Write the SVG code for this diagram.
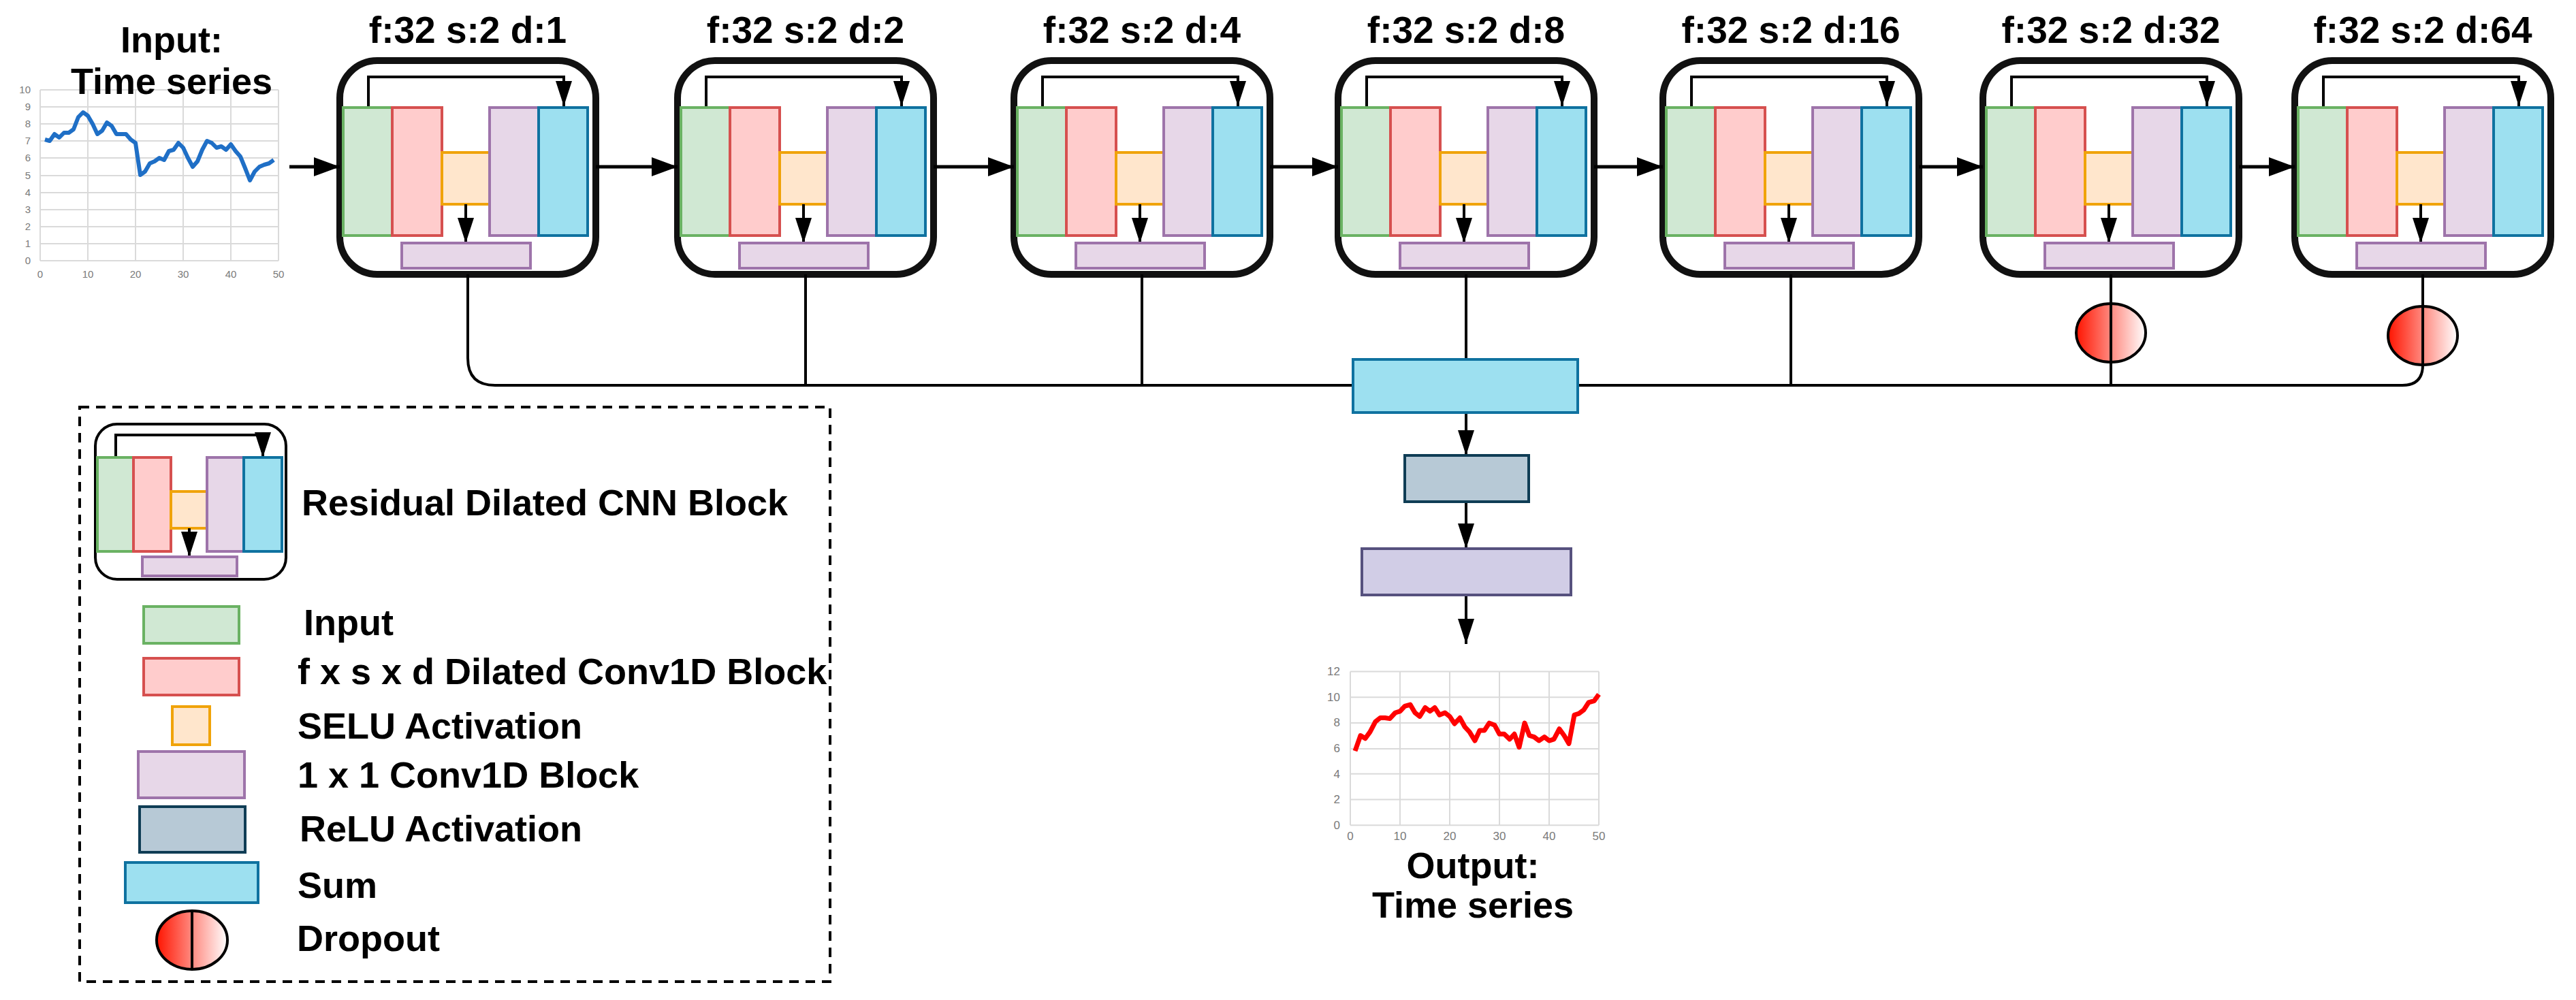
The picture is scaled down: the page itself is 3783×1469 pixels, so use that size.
<svg xmlns="http://www.w3.org/2000/svg" width="3783" height="1469" viewBox="0 0 3783 1469">
<style>
.t{font-family:"Liberation Sans",Arial,sans-serif;font-weight:bold;fill:#000}
.ax{font-family:"Liberation Sans",Arial,sans-serif;fill:#7a7a7a}
.outer{fill:#fff;stroke:#111;stroke-width:10}
.g{fill:#d0e8d3;stroke:#6ab263;stroke-width:4}
.r{fill:#ffcccc;stroke:#d6504f;stroke-width:4}
.o{fill:#ffe6cc;stroke:#f0a30a;stroke-width:4}
.p{fill:#e7d7e8;stroke:#9e74aa;stroke-width:4}
.b{fill:#9de0f0;stroke:#0f72a0;stroke-width:4}
.relu{fill:#b7c9d6;stroke:#0f3d55;stroke-width:4}
.dense{fill:#d1cde6;stroke:#56517e;stroke-width:4}
.ln{fill:none;stroke:#000;stroke-width:4}
.grid{stroke:#dadada;stroke-width:2;fill:none}
.drop{fill:url(#dg);stroke:#000;stroke-width:4}
</style>
<defs>
<marker id="ah" viewBox="0 0 38 28" refX="38" refY="14" markerWidth="38" markerHeight="28" markerUnits="userSpaceOnUse" orient="auto"><path d="M0,0L38,14L0,28z" fill="#000"/></marker>
<marker id="an" viewBox="0 0 37 24" refX="37" refY="12" markerWidth="37" markerHeight="24" markerUnits="userSpaceOnUse" orient="auto"><path d="M0,0L37,12L0,24z" fill="#000"/></marker>
<linearGradient id="dg" x1="0" y1="0" x2="1" y2="0"><stop offset="0" stop-color="#ff1400"/><stop offset="1" stop-color="#ffffff"/></linearGradient>
<g id="blk">
<rect class="outer" x="0" y="0" width="376" height="314" rx="55"/>
<path class="ln" d="M42,69V24H329V67" marker-end="url(#an)"/>
<rect class="g" x="5" y="69" width="72" height="188"/>
<rect class="r" x="77" y="69" width="73" height="188"/>
<rect class="o" x="150" y="135" width="70" height="76"/>
<rect class="p" x="220" y="69" width="72" height="188"/>
<rect class="b" x="292" y="69" width="72" height="188"/>
<path class="ln" d="M185,211V268" marker-end="url(#an)"/>
<rect class="p" x="91" y="268" width="189" height="37"/>
</g>
</defs>
<rect width="3783" height="1469" fill="#fff"/>

<g id="input-chart">
<path class="grid" d="M59,383H409M59,358H409M59,333H409M59,308H409M59,283H409M59,258H409M59,232H409M59,207H409M59,182H409M59,157H409M59,132H409M59,132V383M129,132V383M199,132V383M269,132V383M339,132V383M409,132V383"/>
<g class="ax" font-size="15" text-anchor="end">
<text x="45" y="388">0</text><text x="45" y="363">1</text><text x="45" y="338">2</text><text x="45" y="313">3</text><text x="45" y="288">4</text><text x="45" y="263">5</text><text x="45" y="237">6</text><text x="45" y="212">7</text><text x="45" y="187">8</text><text x="45" y="162">9</text><text x="45" y="137">10</text>
</g>
<g class="ax" font-size="15" text-anchor="middle">
<text x="59" y="408">0</text><text x="129" y="408">10</text><text x="199" y="408">20</text><text x="269" y="408">30</text><text x="339" y="408">40</text><text x="409" y="408">50</text>
</g>
<polyline fill="none" stroke="#1f6fc6" stroke-width="6" stroke-linejoin="round" points="66,205 73,207 80,197 87,202 94,195 101,195 108,190 115,172 122,165 129,170 136,182 143,197 150,192 157,180 164,185 171,197 178,197 185,197 192,205 199,210 206,257 213,252 220,240 227,237 234,232 241,235 248,222 255,220 262,210 269,217 276,232 283,245 290,237 297,220 304,207 311,210 318,217 325,215 332,220 339,212 346,222 353,230 360,247 367,265 374,252 381,245 388,242 395,240 402,235"/>
<text class="t" font-size="54" x="252" y="77" text-anchor="middle">Input:</text>
<text class="t" font-size="54" x="252" y="138" text-anchor="middle">Time series</text>
</g>

<g id="block1"><use href="#blk" x="499" y="89"/><text class="t" font-size="55" x="687" y="63" text-anchor="middle">f:32 s:2 d:1</text></g>
<g id="block2"><use href="#blk" x="995" y="89"/><text class="t" font-size="55" x="1183" y="63" text-anchor="middle">f:32 s:2 d:2</text></g>
<g id="block3"><use href="#blk" x="1489" y="89"/><text class="t" font-size="55" x="1677" y="63" text-anchor="middle">f:32 s:2 d:4</text></g>
<g id="block4"><use href="#blk" x="1965" y="89"/><text class="t" font-size="55" x="2153" y="63" text-anchor="middle">f:32 s:2 d:8</text></g>
<g id="block5"><use href="#blk" x="2442" y="89"/><text class="t" font-size="55" x="2630" y="63" text-anchor="middle">f:32 s:2 d:16</text></g>
<g id="block6"><use href="#blk" x="2912" y="89"/><text class="t" font-size="55" x="3100" y="63" text-anchor="middle">f:32 s:2 d:32</text></g>
<g id="block7"><use href="#blk" x="3370" y="89"/><text class="t" font-size="55" x="3558" y="63" text-anchor="middle">f:32 s:2 d:64</text></g>

<g id="connectors">
<g stroke="#000" stroke-width="5" fill="none">
<path d="M425,245H499" marker-end="url(#ah)"/>
<path d="M875,245H995" marker-end="url(#ah)"/>
<path d="M1371,245H1489" marker-end="url(#ah)"/>
<path d="M1865,245H1965" marker-end="url(#ah)"/>
<path d="M2341,245H2442" marker-end="url(#ah)"/>
<path d="M2818,245H2912" marker-end="url(#ah)"/>
<path d="M3288,245H3370" marker-end="url(#ah)"/>
</g>
<path class="ln" stroke-width="5" d="M687,403V526Q687,566 727,566H3528Q3558,566 3558,536"/>
<path class="ln" d="M1183,403V566M1677,403V566M2153,403V528M2630,403V566M3100,403V566M3558,403V536"/>
<path class="ln" d="M2153,606V669" marker-end="url(#an)"/>
<path class="ln" d="M2153,737V806" marker-end="url(#an)"/>
<path class="ln" d="M2153,874V946" marker-end="url(#an)"/>
</g>

<g id="dropout1"><ellipse class="drop" cx="3100" cy="489" rx="51" ry="43"/><line x1="3100" y1="446" x2="3100" y2="532" stroke="#000" stroke-width="4"/></g>
<g id="dropout2"><ellipse class="drop" cx="3558" cy="493" rx="51" ry="43"/><line x1="3558" y1="450" x2="3558" y2="536" stroke="#000" stroke-width="4"/></g>
<g id="sum"><rect class="b" x="1987" y="528" width="330" height="78" stroke-width="5"/></g>
<g id="relu"><rect class="relu" x="2063" y="669" width="182" height="68"/></g>
<g id="dense"><rect class="dense" x="2000" y="806" width="307" height="68"/></g>

<g id="output-chart">
<g transform="matrix(1 0 0 1.08 0 -33)">
<path class="grid" vector-effect="non-scaling-stroke" d="M1983,1153H2348M1983,1118H2348M1983,1083H2348M1983,1049H2348M1983,1014H2348M1983,979H2348M1983,944H2348M1983,944V1153M2056,944V1153M2129,944V1153M2202,944V1153M2275,944V1153M2348,944V1153"/>
<polyline fill="none" stroke="#ff0000" stroke-width="7" vector-effect="non-scaling-stroke" stroke-linejoin="round" points="1990,1052 1998,1031 2005,1035 2012,1026 2020,1012 2027,1007 2034,1007 2041,1008 2049,1000 2056,998 2063,991 2071,989 2078,1000 2085,1005 2093,993 2100,998 2107,993 2114,1003 2122,1000 2129,1005 2136,1015 2144,1007 2151,1019 2158,1026 2166,1038 2173,1024 2180,1024 2187,1014 2195,1017 2202,1029 2209,1029 2217,1036 2224,1029 2231,1047 2239,1014 2246,1031 2253,1033 2260,1038 2268,1033 2275,1038 2282,1036 2290,1022 2297,1031 2304,1042 2312,1003 2319,1001 2326,996 2333,986 2341,984 2348,975"/>
</g>
<g class="ax" font-size="17" text-anchor="end">
<text x="1968" y="1218">0</text><text x="1968" y="1180">2</text><text x="1968" y="1143">4</text><text x="1968" y="1105">6</text><text x="1968" y="1067">8</text><text x="1968" y="1030">10</text><text x="1968" y="992">12</text>
</g>
<g class="ax" font-size="17" text-anchor="middle">
<text x="1983" y="1234">0</text><text x="2056" y="1234">10</text><text x="2129" y="1234">20</text><text x="2202" y="1234">30</text><text x="2275" y="1234">40</text><text x="2348" y="1234">50</text>
</g>
<text class="t" font-size="54" x="2163" y="1290" text-anchor="middle">Output:</text>
<text class="t" font-size="54" x="2163" y="1348" text-anchor="middle">Time series</text>
</g>

<g id="legend">
<rect x="117" y="598" width="1102" height="844" fill="none" stroke="#000" stroke-width="4" stroke-dasharray="14,10"/>
<rect x="140" y="623" width="280" height="228" rx="32" fill="#fff" stroke="#000" stroke-width="4"/>
<path class="ln" d="M170,672V639H386V672" marker-end="url(#an)"/>
<rect class="g" x="143" y="672" width="53" height="138"/>
<rect class="r" x="196" y="672" width="55" height="138"/>
<rect class="o" x="251" y="722" width="53" height="54"/>
<rect class="p" x="304" y="672" width="54" height="138"/>
<rect class="b" x="358" y="672" width="56" height="138"/>
<path class="ln" d="M278,776V818" marker-end="url(#an)"/>
<rect class="p" x="209" y="818" width="139" height="28"/>
<text class="t" font-size="54" x="443" y="757">Residual Dilated CNN Block</text>
<rect class="g" x="211" y="891" width="140" height="54"/>
<text class="t" font-size="54" x="446" y="933">Input</text>
<rect class="r" x="211" y="967" width="140" height="54"/>
<text class="t" font-size="54" x="437" y="1005">f x s x d Dilated Conv1D Block</text>
<rect class="o" x="253" y="1038" width="55" height="56"/>
<text class="t" font-size="54" x="437" y="1085">SELU Activation</text>
<rect class="p" x="203" y="1104" width="156" height="68"/>
<text class="t" font-size="54" x="437" y="1157">1 x 1 Conv1D Block</text>
<rect class="relu" x="205" y="1185" width="155" height="67"/>
<text class="t" font-size="54" x="440" y="1236">ReLU Activation</text>
<rect class="b" x="184" y="1267" width="195" height="59"/>
<text class="t" font-size="54" x="437" y="1319">Sum</text>
<ellipse class="drop" cx="282" cy="1381" rx="52" ry="43"/>
<line x1="282" y1="1338" x2="282" y2="1424" stroke="#000" stroke-width="4"/>
<text class="t" font-size="54" x="436" y="1397">Dropout</text>
</g>
</svg>
